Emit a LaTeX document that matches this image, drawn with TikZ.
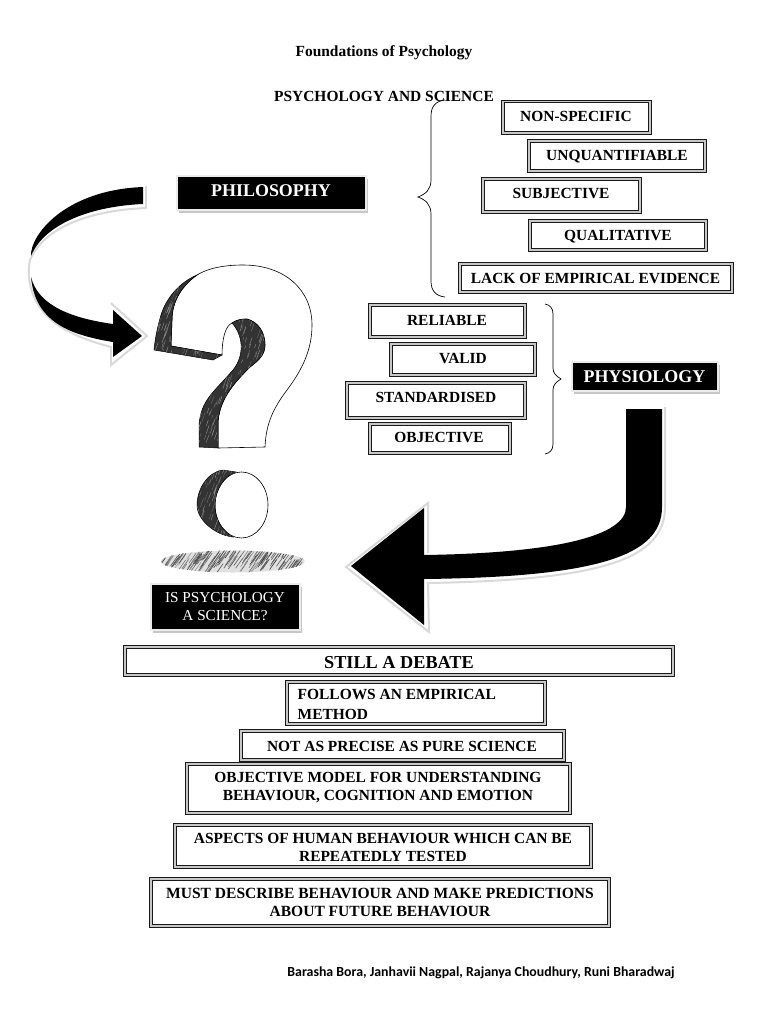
\documentclass[tikz,border=0pt]{standalone}
\usepackage{fontspec}
\usetikzlibrary{shadows}
\setmainfont{Liberation Serif}
\newfontfamily\footfont{Carlito}
\newcommand{\tb}[8]{%
  \pgfmathsetmacro{\bw}{#4-#2-3.6}\pgfmathsetmacro{\bh}{#5-#3-3.6}%
  \node[dbox,minimum width=\bw bp,minimum height=\bh bp] (#1) at ({(#2+#4)/2},{(#3+#5)/2}) {};%
  \node[lbl,align=center] (#1-t) at (#7,#8) {#6};}
\newcommand{\hatch}[5]{%
  \foreach \k in {1,...,#5}{%
    \pgfmathsetmacro{\xa}{#1+rnd*(#3-#1)}%
    \pgfmathsetmacro{\ya}{#2+rnd*(#4-#2)}%
    \pgfmathsetmacro{\la}{3+rnd*7}%
    \pgfmathsetmacro{\ca}{30+rnd*30}%
    \draw[draw=black!\ca,line width=0.3pt] (\xa,\ya) -- ++(\la*0.35,-\la);}}
\pgfmathsetseed{4242}
\tikzset{
  dbox/.style={draw=black!90,double=black!22,line width=1pt,double distance=1.6pt,fill=white,inner sep=0pt,outer sep=0pt},
  lbl/.style={font=\fontsize{15.5}{18}\selectfont\bfseries,text=black,inner sep=0pt},
  blackbox/.style={fill=black,draw=black!8,line width=1.4pt,text=white,inner sep=0pt,drop shadow={shadow xshift=2bp,shadow yshift=-2.5bp,fill=black!22,opacity=1}},
  glow/.style={draw=black!15,line width=2pt,line join=miter,fill=none},
  brc/.style={draw=black,line width=0.7pt,fill=none},
  qdark/.style={fill=black!80,draw=black,line width=0.5pt}
}
\begin{document}
\begin{tikzpicture}[x=1bp,y=-1bp]
\useasboundingbox (0,0) rectangle (768,1024);
\fill[white] (0,0) rectangle (768,1024);

% headings
\node[lbl] (title) at (384,52.5) {Foundations of Psychology};
\node[lbl] (head) at (384,96) {PSYCHOLOGY AND SCIENCE};

% braces
\draw[brc] (445,100) .. controls (436,101) and (431,106) .. (431,116)
  -- (431,180) .. controls (431,189) and (426,194) .. (418,197)
  .. controls (426,200) and (431,205) .. (431,214)
  -- (431,281) .. controls (431,291) and (436,296) .. (445,297);
\draw[brc] (545,304) .. controls (550,305) and (553,308) .. (553,314)
  -- (553,368) .. controls (553,373) and (556,376) .. (561,379)
  .. controls (556,382) and (553,385) .. (553,390)
  -- (553,444) .. controls (553,450) and (550,453) .. (545,454);

% upper list
\tb{a1}{501}{99.5}{652}{135}{NON-SPECIFIC}{576}{116}
\tb{a2}{527}{139}{707}{173}{UNQUANTIFIABLE}{617}{156.5}
\tb{a3}{481}{177}{642}{214}{SUBJECTIVE}{561}{194}
\tb{a4}{528}{219}{708}{252}{QUALITATIVE}{618}{236.5}
\tb{a5}{458}{262}{734}{294}{LACK OF EMPIRICAL EVIDENCE}{595.5}{278}

% middle list
\tb{b1}{368}{303}{527}{339}{RELIABLE}{447}{320}
\tb{b2}{389}{342}{537}{377}{VALID}{463}{358.5}
\tb{b3}{345}{381}{527}{420}{STANDARDISED}{436}{397}
\tb{b4}{368}{422}{512}{455}{OBJECTIVE}{439}{437.5}

% black boxes
\node[blackbox,minimum width=189bp,minimum height=34bp] (phil) at (271.5,193) {};
\node[font=\fontsize{18}{20}\selectfont\bfseries,text=white,inner sep=0pt] (phil-t) at (271,190.5) {PHILOSOPHY};
\node[blackbox,minimum width=146bp,minimum height=29bp] (phys) at (645,376.5) {};
\node[font=\fontsize{18}{20}\selectfont\bfseries,text=white,inner sep=0pt] (phys-t) at (644.5,376.5) {PHYSIOLOGY};
\node[blackbox,minimum width=149bp,minimum height=46bp] (isp) at (225.5,607) {};
\node[font=\fontsize{15.3}{18}\selectfont,text=white,inner sep=0pt,align=center] (isp-t) at (225,607) {IS PSYCHOLOGY\\A SCIENCE?};

% left curved arrow: glow
\draw[glow] (146,186) -- (146,208) .. controls (95,210) and (45,225) .. (30,260)
  .. controls (25,285) and (35,315) .. (70,332) .. controls (85,340) and (100,344) .. (111,347)
  -- (111,365) -- (147,336) -- (111,303);
\fill[black] (143,187) -- (143,204) .. controls (95,206) and (45,222) .. (31,256)
  .. controls (30,235) and (65,190) .. (143,187) -- cycle;
\fill[black] (31,277) .. controls (38,305) and (70,318) .. (113,324)
  -- (113,310) -- (142,336) -- (113,357) -- (113,342)
  .. controls (70,335) and (35,322) .. (31,277) -- cycle;

% big arrow
\draw[glow] (665,407) -- (665,507) .. controls (665,560) and (600,580) .. (428,583)
  -- (429,632) -- (346,567) -- (428,503) -- (428,553);
\fill[black] (626,409) -- (662,409) -- (662,507)
  .. controls (662,555) and (600,577) .. (424,579)
  -- (424,625) -- (351,566) -- (424,508) -- (424,555)
  .. controls (560,553) and (626,535) .. (626,507) -- cycle;

% question mark: front face
\draw[fill=white,draw=black,line width=0.6pt]
  (218,448) -- (265,447)
  .. controls (266,425) and (272,410) .. (287,390)
  .. controls (302,370) and (312,350) .. (312,325)
  .. controls (312,290) and (285,265) .. (243,265)
  .. controls (225,265) and (208,268) .. (197,275)
  .. controls (183,285) and (172,300) .. (172,320)
  -- (171,346) -- (222,355)
  .. controls (222,340) and (225,326) .. (232,323)
  .. controls (238,319) and (243,319) .. (247,319)
  .. controls (258,322) and (265,332) .. (265,345)
  .. controls (265,355) and (258,361) .. (250,367)
  .. controls (235,382) and (218,400) .. (218,425)
  -- (218,448) -- cycle;
\def\qa{(197,275) .. controls (180,282) and (166,298) .. (161,315)
  .. controls (157,328) and (155,340) .. (154,350)
  -- (213,360) -- (222,355) -- (171,346) -- (172,320)
  .. controls (172,300) and (183,285) .. (197,275) -- cycle}
\def\qb{(232,323) .. controls (238,319) and (243,319) .. (247,319)
  .. controls (258,322) and (265,332) .. (265,345)
  .. controls (265,355) and (258,361) .. (250,367)
  .. controls (235,382) and (218,400) .. (218,425)
  -- (218,448) -- (199,447) -- (199,425)
  .. controls (201,400) and (213,393) .. (233,370)
  .. controls (245,355) and (243,335) .. (232,323) -- cycle}
\def\qc{(223,470) .. controls (207,472) and (197,490) .. (197,505)
  .. controls (197,520) and (215,535) .. (233,537)
  .. controls (222,530) and (215,520) .. (215,505)
  .. controls (215,490) and (225,475) .. (236,472) -- cycle}
\draw[qdark] \qa;
\begin{scope}\clip \qa; \hatch{152}{272}{224}{362}{200}\end{scope}
\draw[qdark] \qb;
\begin{scope}\clip \qb; \hatch{197}{317}{267}{450}{280}\end{scope}
% dot
\draw[fill=white,draw=black,line width=0.6pt] (241.5,505) ellipse (26.5 and 33);
\draw[qdark] \qc;
\begin{scope}\clip \qc; \hatch{195}{468}{238}{540}{110}\end{scope}
% shadow
\begin{scope}
\clip (233,561.5) ellipse (72 and 11);
\fill[black!12] (161,550) rectangle (305,573);
\foreach \k in {1,...,170}{
  \pgfmathsetmacro{\xb}{158+rnd*140}
  \pgfmathsetmacro{\yb}{556+rnd*18}
  \pgfmathsetmacro{\cb}{35+rnd*45}
  \draw[draw=black!\cb,line width=0.6pt] (\xb,\yb) -- ++(7,-10);
}
\end{scope}

% bottom stack
\tb{c1}{123}{645}{675}{677}{\fontsize{18.3}{20}\selectfont STILL A DEBATE}{399}{662.5}
\node[dbox,minimum width=258.4bp,minimum height=42.4bp] (c2) at (416,703) {};
\node[lbl,align=left,anchor=west,font=\fontsize{15.5}{20}\selectfont\bfseries] (c2-t) at (297.5,704) {FOLLOWS AN EMPIRICAL\\METHOD};
\tb{c3}{239}{729}{566}{762}{NOT AS PRECISE AS PURE SCIENCE}{402}{746}
\tb{c4}{185}{762}{572}{815}{\fontsize{15.5}{18.5}\selectfont OBJECTIVE MODEL FOR UNDERSTANDING\\\fontsize{15.5}{18.5}\selectfont BEHAVIOUR, COGNITION AND EMOTION}{378}{788}
\tb{c5}{173}{823}{593}{869}{\fontsize{15.5}{17.5}\selectfont ASPECTS OF HUMAN BEHAVIOUR WHICH CAN BE\\\fontsize{15.5}{17.5}\selectfont REPEATEDLY TESTED}{383}{847}
\tb{c6}{149}{877}{611}{928}{\fontsize{15.6}{19}\selectfont MUST DESCRIBE BEHAVIOUR AND MAKE PREDICTIONS\\\fontsize{15.6}{19}\selectfont ABOUT FUTURE BEHAVIOUR}{380}{902}

% footer
\node[inner sep=0pt,font=\footfont\fontsize{13.9}{15}\selectfont\bfseries] (foot) at (481,972.5) {Barasha Bora, Janhavii Nagpal, Rajanya Choudhury, Runi Bharadwaj};
\end{tikzpicture}
\end{document}
